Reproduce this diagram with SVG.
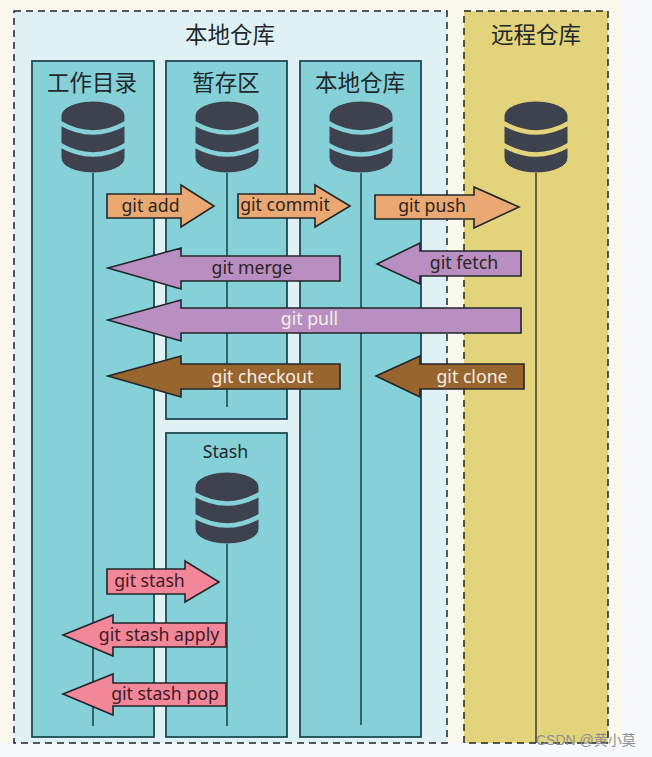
<svg xmlns="http://www.w3.org/2000/svg" width="652" height="757" viewBox="0 0 652 757">
<style>
.zone{stroke:#1c2426;stroke-width:1.5;stroke-dasharray:7 5}
.panel{fill:#86d1d7;stroke:#1f4a50;stroke-width:1.8}
.cn{font-family:"Noto Sans CJK SC","Noto Sans",sans-serif;font-size:22.5px;fill:#20282c;text-anchor:middle}
.lbl{font-family:"Noto Sans","Open Sans",sans-serif;font-size:17.7px;text-anchor:middle}
.life{stroke:#1f4a50;stroke-width:1.6;fill:none}
.arrow{stroke:#22262a;stroke-width:1.6;stroke-linejoin:miter}
.orange{fill:#eaa973}.purple{fill:#b88fc0}.brown{fill:#98652f}.pink{fill:#f2879a}
.t-dark{fill:#2c2420}.t-light{fill:#f4efe8}.t-pink{fill:#401a24}
.band{fill:none;stroke-width:4.6}
.wm{font-family:"Liberation Sans","Noto Sans CJK SC",sans-serif;font-size:14px;fill:#8d8f92}
</style>
<defs>
<g id="cyl">
<path d="M61 116A32 15 0 0 1 125 116V158A32 15 0 0 1 61 158Z" fill="#3e424e"/>
<path class="band" d="M60 123Q93 142 126 123M60 145Q93 164 126 145"/>
</g>
</defs>
<rect width="652" height="757" fill="#f6f8fc"/>
<rect width="621" height="743" fill="#fbf8ee"/>
<g id="zone-local">
<rect class="zone" x="14" y="11" width="433" height="732" fill="#e0f1f5"/>
<text class="cn" x="230" y="43">本地仓库</text>
</g>
<g id="zone-remote">
<rect class="zone" x="464" y="11" width="144" height="732" fill="#e3d47c"/>
<text class="cn" x="536" y="43">远程仓库</text>
<use href="#cyl" x="443" stroke="#e3d47c"/>
</g>
<g id="node-workdir">
<rect class="panel" x="32" y="61" width="122" height="676"/>
<text class="cn" x="92" y="91">工作目录</text>
<use href="#cyl" stroke="#86d1d7"/>
</g>
<g id="node-stage">
<rect class="panel" x="166" y="61" width="121" height="358"/>
<text class="cn" x="226" y="91">暂存区</text>
<use href="#cyl" x="134" stroke="#86d1d7"/>
</g>
<g id="node-repo">
<rect class="panel" x="300" y="61" width="121" height="676"/>
<text class="cn" x="360" y="91">本地仓库</text>
<use href="#cyl" x="268" stroke="#86d1d7"/>
</g>
<g id="node-stash">
<rect class="panel" x="166" y="433" width="121" height="304"/>
<text x="225.500" y="458" font-family="Noto Sans,sans-serif" font-size="17.800" fill="#20282c" text-anchor="middle">Stash</text>
<use href="#cyl" x="134" y="371" stroke="#86d1d7"/>
</g>
<g id="connectors">
<path class="life" d="M93 173V726M227 173V407M227 544V726M361 173V725"/>
<path d="M536 173V743" fill="none" stroke="#4a4630" stroke-width="1.6"/>
<polygon class="arrow orange" points="107,194 181,194 181,185 214,206 181,227 181,218 107,218"/>
<text class="lbl t-dark" x="150.500" y="212">git add</text>
<polygon class="arrow orange" points="238,194 315,194 315,185 350,206 315,227 315,218 238,218"/>
<text class="lbl t-dark" x="285" y="211">git commit</text>
<polygon class="arrow orange" points="375,195 474,195 474,187 519,207 474,228 474,219 375,219"/>
<text class="lbl t-dark" x="432" y="212">git push</text>
<polygon class="arrow purple" points="108,268 181,248 181,256 340,256 340,281 181,281 181,289"/>
<text class="lbl t-dark" x="252" y="274">git merge</text>
<polygon class="arrow purple" points="377,264 420,243 420,251 521,251 521,276 420,276 420,284"/>
<text class="lbl t-dark" x="464" y="269">git fetch</text>
<polygon class="arrow purple" points="108,320 181,300 181,308 521,308 521,333 181,333 181,341"/>
<text class="lbl t-light" x="309.500" y="325">git pull</text>
<polygon class="arrow brown" points="108,376 181,356 181,364 340,364 340,389 181,389 181,397"/>
<text class="lbl t-light" x="262.500" y="383">git checkout</text>
<polygon class="arrow brown" points="376,376 420,356 420,364 524,364 524,389 420,389 420,397"/>
<text class="lbl t-light" x="472" y="383">git clone</text>
<polygon class="arrow pink" points="107,569 185,569 185,561 219,582 185,602 185,594 107,594"/>
<text class="lbl t-pink" x="149.500" y="587">git stash</text>
<polygon class="arrow pink" points="63,635 113,615 113,623 226,623 226,647 113,647 113,656"/>
<text class="lbl t-pink" x="159" y="641">git stash apply</text>
<polygon class="arrow pink" points="63,694 113,674 113,683 226,683 226,706 113,706 113,715"/>
<text class="lbl t-pink" x="165" y="700">git stash pop</text>
</g>
<text class="wm" x="536" y="745">CSDN @黄小莫</text>
</svg>
